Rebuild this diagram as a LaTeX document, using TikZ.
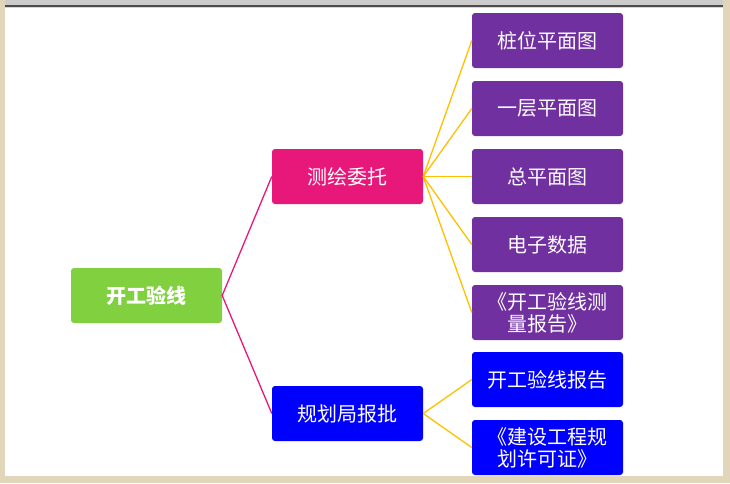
\documentclass[tikz,border=0pt]{standalone}
\usepackage{fontspec}
\setmainfont{Noto Sans CJK SC}
\definecolor{cgreen}{RGB}{128,208,64}
\definecolor{cpink}{RGB}{232,23,122}
\definecolor{cpurple}{RGB}{112,48,160}
\definecolor{corange}{RGB}{255,192,0}
\definecolor{cbeige}{RGB}{225,214,185}
\begin{document}
\begin{tikzpicture}[x=1pt,y=-1pt,
  box/.style={rounded corners=3pt,minimum width=151pt,minimum height=55pt,text=white,font=\fontsize{20}{22}\selectfont,align=center,inner sep=1pt,text width=145pt},
  pbox/.style={box,fill=cpurple},
  lk/.style={line width=1.3pt}]
\fill[cbeige] (0,0) rectangle (730,483);
\fill[white] (5,8) rectangle (723,476);
\fill[gray!40!white] (5,0) rectangle (723,5);
\draw[line width=1.2pt,black!70] (5,6) -- (723,6);
\node[box,fill=cgreen,font=\bfseries\fontsize{20}{22}\selectfont] (root) at (146.5,295.5) {开工验线};
\node[box,fill=cpink] (a) at (347.5,176.5) {测绘委托};
\node[box,fill=blue] (b) at (347.5,413.5) {规划局报批};
\node[pbox] (a1) at (547.5,40.5) {桩位平面图};
\node[pbox] (a2) at (547.5,108.5) {一层平面图};
\node[pbox] (a3) at (547.5,176.5) {总平面图};
\node[pbox] (a4) at (547.5,244.5) {电子数据};
\node[pbox] (a5) at (547.5,312.5) {《开工验线测\\量报告》};
\node[box,fill=blue] (b1) at (547.5,379.5) {开工验线报告};
\node[box,fill=blue] (b2) at (547.5,447.5) {《建设工程规\\划许可证》};
\draw[lk,cpink] (a.west) -- (root.east) -- (b.west);
\foreach \t in {a1,a2,a3,a4,a5} \draw[lk,corange] (a.east) -- (\t.west);
\foreach \t in {b1,b2} \draw[lk,corange] (b.east) -- (\t.west);
\end{tikzpicture}
\end{document}
